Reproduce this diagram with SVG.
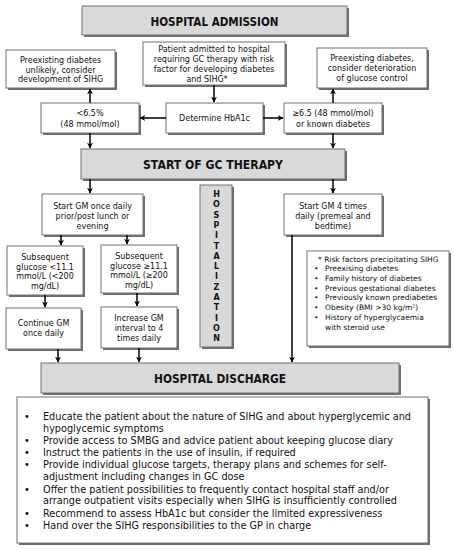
<svg xmlns="http://www.w3.org/2000/svg" width="455" height="550" viewBox="0 0 455 550">
<defs>
<marker id="ah" viewBox="0 0 10 10" refX="9" refY="5" markerWidth="6" markerHeight="6" orient="auto" markerUnits="userSpaceOnUse">
<path d="M0,0 L10,5 L0,10 L3,5 Z" fill="#000"/>
</marker>
<style>
.sh{fill:#6e6e6e}
.bx{fill:#fff;stroke:#707070;stroke-width:1}
.gb{fill:#d9d9d9;stroke:#707070;stroke-width:1}
.t{font-family:"DejaVu Sans",sans-serif;font-size:8px;fill:#111;text-anchor:middle}
.h{font-family:"DejaVu Sans",sans-serif;font-size:12px;font-weight:bold;fill:#111;text-anchor:middle}
.v{font-family:"DejaVu Sans",sans-serif;font-size:8px;font-weight:bold;fill:#111;text-anchor:middle}
.r{font-family:"DejaVu Sans",sans-serif;font-size:7.5px;fill:#111}
.b{font-family:"DejaVu Sans",sans-serif;font-size:9.7px;fill:#111}
.c{stroke:#000;stroke-width:1.5;fill:none;marker-end:url(#ah)}
</style>
</defs>
<rect width="455" height="550" fill="#fff"/>

<g id="admission">
<rect class="sh" x="84" y="8" width="265" height="29"/>
<rect class="gb" x="82" y="6" width="265" height="29"/>
<text class="h" x="214.5" y="26" textLength="128" lengthAdjust="spacingAndGlyphs">HOSPITAL ADMISSION</text>
</g>

<g id="unlikely">
<rect class="sh" x="8" y="52" width="109" height="38"/>
<rect class="bx" x="6" y="50" width="109" height="38"/>
<text class="t" x="60.5" y="63">Preexisting diabetes</text>
<text class="t" x="60.5" y="72.5">unlikely, consider</text>
<text class="t" x="60.5" y="82">development of SIHG</text>
</g>

<g id="patient">
<rect class="sh" x="145" y="44" width="142" height="43"/>
<rect class="bx" x="143" y="42" width="142" height="43"/>
<text class="t" x="214" y="52">Patient admitted to hospital</text>
<text class="t" x="214" y="62">requiring GC therapy  with risk</text>
<text class="t" x="214" y="72">factor for developing diabetes</text>
<text class="t" x="207" y="82">and SIHG*</text>
</g>

<g id="preexisting">
<rect class="sh" x="319" y="50" width="110" height="40"/>
<rect class="bx" x="317" y="48" width="110" height="40"/>
<text class="t" x="372" y="61">Preexisting diabetes,</text>
<text class="t" x="372" y="71">consider deterioration</text>
<text class="t" x="372" y="81">of glucose control</text>
</g>

<g id="low">
<rect class="sh" x="43" y="105" width="98" height="30"/>
<rect class="bx" x="41" y="103" width="98" height="30"/>
<text class="t" x="90" y="116">&lt;6.5%</text>
<text class="t" x="90" y="127">(48 mmol/mol)</text>
</g>

<g id="determine">
<rect class="sh" x="168" y="105" width="97" height="30"/>
<rect class="bx" x="166" y="103" width="97" height="30"/>
<text class="t" x="214.5" y="121">Determine HbA1c</text>
</g>

<g id="high">
<rect class="sh" x="286" y="105" width="98" height="30"/>
<rect class="bx" x="284" y="103" width="98" height="30"/>
<text class="t" x="333" y="116">≥6.5 (48 mmol/mol)</text>
<text class="t" x="333" y="127">or known diabetes</text>
</g>

<g id="start">
<rect class="sh" x="83" y="151" width="264" height="30"/>
<rect class="gb" x="81" y="149" width="264" height="30"/>
<text class="h" x="213" y="169" textLength="140" lengthAdjust="spacingAndGlyphs">START OF GC THERAPY</text>
</g>

<g id="once">
<rect class="sh" x="44" y="196" width="101" height="41"/>
<rect class="bx" x="42" y="194" width="101" height="41"/>
<text class="t" x="92.5" y="209">Start GM once daily</text>
<text class="t" x="92.5" y="219">prior/post lunch or</text>
<text class="t" x="92.5" y="229">evening</text>
</g>

<g id="hospitalization">
<rect class="sh" x="202" y="187" width="32" height="162"/>
<rect class="gb" x="200" y="185" width="32" height="162"/>
<text class="v" x="216.5" y="197">H</text>
<text class="v" x="216.5" y="207.3">O</text>
<text class="v" x="216.5" y="217.6">S</text>
<text class="v" x="216.5" y="227.9">P</text>
<text class="v" x="216.5" y="238.2">I</text>
<text class="v" x="216.5" y="248.5">T</text>
<text class="v" x="216.5" y="258.8">A</text>
<text class="v" x="216.5" y="269.1">L</text>
<text class="v" x="216.5" y="279.4">I</text>
<text class="v" x="216.5" y="289.7">Z</text>
<text class="v" x="216.5" y="300">A</text>
<text class="v" x="216.5" y="310.3">T</text>
<text class="v" x="216.5" y="320.6">I</text>
<text class="v" x="216.5" y="330.9">O</text>
<text class="v" x="216.5" y="341.2">N</text>
</g>

<g id="four">
<rect class="sh" x="286" y="196" width="98" height="41"/>
<rect class="bx" x="284" y="194" width="98" height="41"/>
<text class="t" x="333" y="209">Start GM 4 times</text>
<text class="t" x="333" y="219">daily (premeal and</text>
<text class="t" x="333" y="229">bedtime)</text>
</g>

<g id="risk">
<rect class="sh" x="309" y="253" width="142" height="95"/>
<rect class="bx" x="307" y="251" width="142" height="95"/>
<text class="r" x="318" y="262">* Risk factors precipitating SIHG</text>
<text class="r" x="314" y="271">•</text><text class="r" x="325" y="271">Preexising diabetes</text>
<text class="r" x="314" y="281">•</text><text class="r" x="325" y="281">Family history of diabetes</text>
<text class="r" x="314" y="291">•</text><text class="r" x="325" y="291">Previous gestational diabetes</text>
<text class="r" x="314" y="300">•</text><text class="r" x="325" y="300">Previously known prediabetes</text>
<text class="r" x="314" y="310">•</text><text class="r" x="325" y="310">Obesity (BMI &gt;30 kg/m²)</text>
<text class="r" x="314" y="320">•</text><text class="r" x="325" y="320">History of hyperglycaemia</text>
<text class="r" x="325" y="330">with steroid use</text>
</g>

<g id="sublow">
<rect class="sh" x="9" y="248" width="76" height="49"/>
<rect class="bx" x="7" y="246" width="76" height="49"/>
<text class="t" x="45" y="260">Subsequent</text>
<text class="t" x="45" y="269.5">glucose &lt;11.1</text>
<text class="t" x="45" y="279">mmol/L (&lt;200</text>
<text class="t" x="45" y="289">mg/dL)</text>
</g>

<g id="subhigh">
<rect class="sh" x="103" y="247" width="76" height="48"/>
<rect class="bx" x="101" y="245" width="76" height="48"/>
<text class="t" x="139" y="259">Subsequent</text>
<text class="t" x="139" y="268.5">glucose  ≥11.1</text>
<text class="t" x="139" y="278">mmol/L (≥200</text>
<text class="t" x="139" y="287.5">mg/dL)</text>
</g>

<g id="continue">
<rect class="sh" x="8" y="310" width="75" height="41"/>
<rect class="bx" x="6" y="308" width="75" height="41"/>
<text class="t" x="43.5" y="326">Continue GM</text>
<text class="t" x="43.5" y="336">once daily</text>
</g>

<g id="increase">
<rect class="sh" x="103" y="309" width="76" height="41"/>
<rect class="bx" x="101" y="307" width="76" height="41"/>
<text class="t" x="139" y="321">Increase GM</text>
<text class="t" x="139" y="331">interval to 4</text>
<text class="t" x="139" y="341">times daily</text>
</g>

<g id="discharge">
<rect class="sh" x="43" y="365" width="358" height="30"/>
<rect class="gb" x="41" y="363" width="358" height="30"/>
<text class="h" x="220" y="383" textLength="132" lengthAdjust="spacingAndGlyphs">HOSPITAL DISCHARGE</text>
</g>

<g id="advice">
<rect class="sh" x="19" y="399" width="411" height="146"/>
<rect class="bx" x="17" y="397" width="411" height="146"/>
<text class="b" x="24" y="419.5">•</text><text class="b" x="43" y="419.5">Educate the patient about the nature of SIHG and about hyperglycemic and</text>
<text class="b" x="43" y="431.5">hypoglycemic symptoms</text>
<text class="b" x="24" y="444">•</text><text class="b" x="43" y="444">Provide access to SMBG and advice patient about keeping glucose diary</text>
<text class="b" x="24" y="456">•</text><text class="b" x="43" y="456">Instruct the patients in the use of insulin, if required</text>
<text class="b" x="24" y="468">•</text><text class="b" x="43" y="468">Provide individual glucose targets, therapy plans and schemes for self-</text>
<text class="b" x="43" y="480">adjustment including changes in GC dose</text>
<text class="b" x="24" y="492.5">•</text><text class="b" x="43" y="492.5">Offer the patient possibilities to frequently contact hospital staff and/or</text>
<text class="b" x="43" y="504">arrange outpatient visits especially when SIHG is insufficiently controlled</text>
<text class="b" x="24" y="516.5">•</text><text class="b" x="43" y="516.5">Recommend to assess HbA1c but consider the limited expressiveness</text>
<text class="b" x="24" y="529">•</text><text class="b" x="43" y="529">Hand over the SIHG responsibilities to the GP in charge</text>
</g>

<g id="connectors">
<line class="c" x1="214" y1="85" x2="214" y2="102"/>
<line class="c" x1="166" y1="118" x2="140" y2="118"/>
<line class="c" x1="263" y1="118" x2="283" y2="118"/>
<line class="c" x1="90" y1="103" x2="90" y2="89"/>
<line class="c" x1="333" y1="103" x2="333" y2="89"/>
<line class="c" x1="90" y1="133" x2="90" y2="148"/>
<line class="c" x1="333" y1="133" x2="333" y2="148"/>
<line class="c" x1="90" y1="179" x2="90" y2="193"/>
<line class="c" x1="333" y1="179" x2="333" y2="193"/>
<line class="c" x1="61" y1="235" x2="61" y2="245"/>
<line class="c" x1="127" y1="235" x2="127" y2="244"/>
<line class="c" x1="45" y1="295" x2="45" y2="307"/>
<line class="c" x1="137" y1="293" x2="137" y2="306"/>
<line class="c" x1="58" y1="349" x2="58" y2="362"/>
<line class="c" x1="139" y1="348" x2="139" y2="362"/>
<line class="c" x1="292" y1="235" x2="292" y2="362"/>
</g>
</svg>
